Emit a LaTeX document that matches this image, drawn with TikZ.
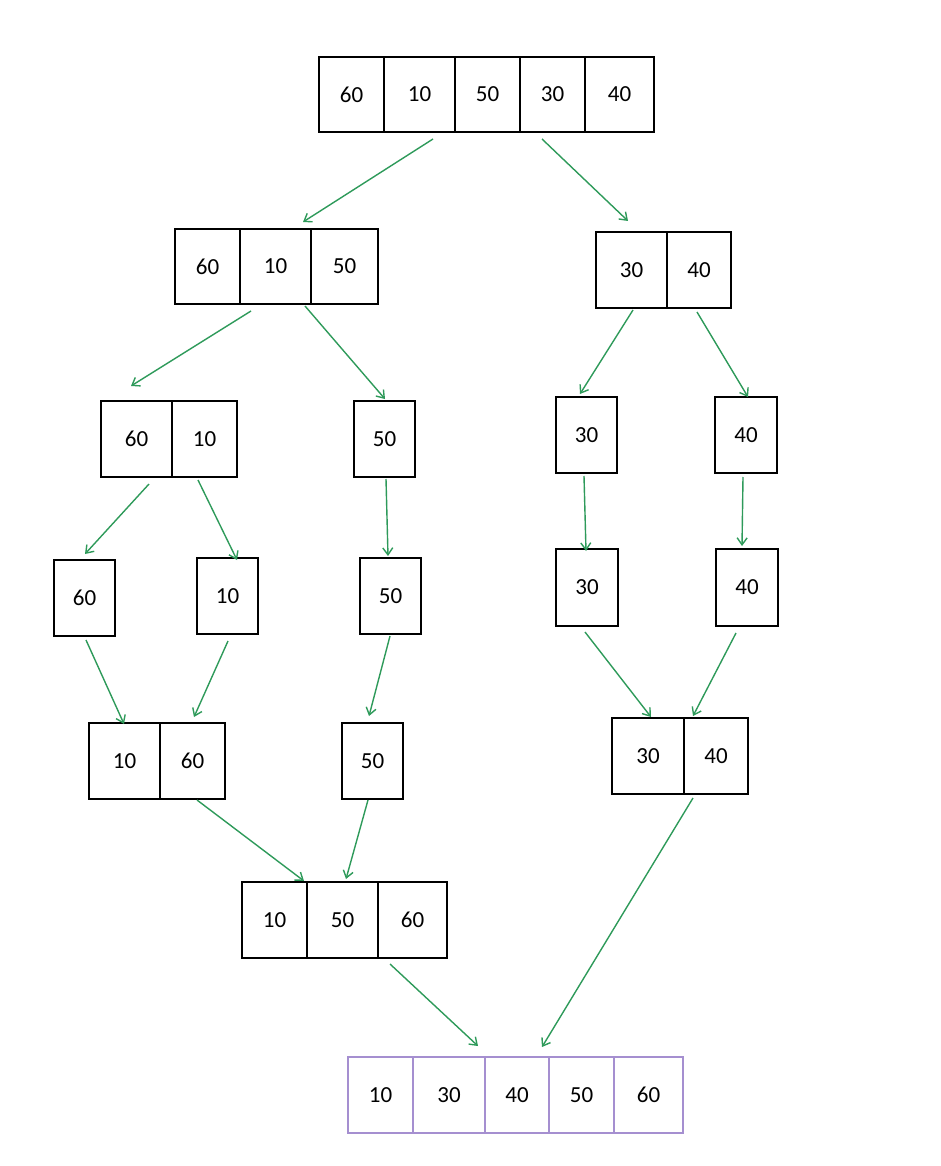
\documentclass[tikz,border=0pt]{standalone}
\usepackage{fontspec}
\setmainfont{Carlito}
\usetikzlibrary{arrows.meta}
\definecolor{arr}{HTML}{2E9A5A}
\definecolor{fin}{HTML}{A58FD0}
\tikzset{
 cellbox/.style={draw=black,line width=1.2pt},
 finbox/.style={draw=fin,line width=1.2pt},
 lbl/.style={font=\fontsize{23}{27}\selectfont},
 conn/.style={draw=arr,line width=1.4pt,-{Straight Barb[length=7pt,width=10pt]}}
}
% \mcell{name}{x1}{x2}{y1}{y2}{text}{style}
\newcommand{\mcell}[7]{%
 \path[#7] (#2,#4) rectangle (#3,#5);
 \node[lbl] (#1) at ({(#2+#3)/2},{(#4+#5)/2}) {#6};}
\begin{document}
\begin{tikzpicture}[x=1pt,y=-1pt]
\useasboundingbox (0,0) rectangle (940,1166);
% top
\mcell{t1}{319}{384}{57}{132}{60}{cellbox}
\mcell{t2}{384}{455}{57}{132}{10}{cellbox}
\mcell{t3}{455}{520}{57}{132}{50}{cellbox}
\mcell{t4}{520}{585}{57}{132}{30}{cellbox}
\mcell{t5}{585}{654}{57}{132}{40}{cellbox}
% row2
\mcell{a1}{175}{240}{229}{304}{60}{cellbox}
\mcell{a2}{240}{311}{229}{304}{10}{cellbox}
\mcell{a3}{311}{378}{229}{304}{50}{cellbox}
\mcell{b1}{596}{667}{232}{308}{30}{cellbox}
\mcell{b2}{667}{731}{232}{308}{40}{cellbox}
% row3
\mcell{c1}{101}{172}{401}{477}{60}{cellbox}
\mcell{c2}{172}{237}{401}{477}{10}{cellbox}
\mcell{c3}{354}{415}{401}{477}{50}{cellbox}
\mcell{c4}{556}{617}{397}{473}{30}{cellbox}
\mcell{c5}{715}{777}{397}{473}{40}{cellbox}
% row4
\mcell{d1}{54}{115}{560}{636}{60}{cellbox}
\mcell{d2}{197}{258}{558}{634}{10}{cellbox}
\mcell{d3}{360}{421}{558}{634}{50}{cellbox}
\mcell{d4}{556}{618}{549}{626}{30}{cellbox}
\mcell{d5}{716}{778}{549}{626}{40}{cellbox}
% row5
\mcell{e1}{89}{160}{723}{799}{10}{cellbox}
\mcell{e2}{160}{225}{723}{799}{60}{cellbox}
\mcell{e3}{342}{403}{723}{799}{50}{cellbox}
\mcell{e4}{612}{684}{718}{794}{30}{cellbox}
\mcell{e5}{684}{748}{718}{794}{40}{cellbox}
% row6
\mcell{f1}{242}{307}{882}{958}{10}{cellbox}
\mcell{f2}{307}{378}{882}{958}{50}{cellbox}
\mcell{f3}{378}{447}{882}{958}{60}{cellbox}
% final
\mcell{g1}{348}{413}{1057}{1133}{10}{finbox}
\mcell{g2}{413}{485}{1057}{1133}{30}{finbox}
\mcell{g3}{485}{549}{1057}{1133}{40}{finbox}
\mcell{g4}{549}{614}{1057}{1133}{50}{finbox}
\mcell{g5}{614}{683}{1057}{1133}{60}{finbox}
% connector endpoints
\foreach \n/\x/\y in {p1/433/139,q1/303/222,p2/542/139,q2/628/221,
 p3/251/311,q3/131/386,p4/305/306,q4/385/399,
 p5/633/310,q5/580/394,p6/697/312,q6/748/397,
 p7/149/484,q7/85/554,p8/198/480,q8/237/560,
 p9/386/479,q9/388/556,p10/584/476,q10/586/551,p11/743/477,q11/742/546,
 p12/86/640,q12/124/724,p13/228/641,q13/194/717,p14/390/636,q14/369/716,
 p15/585/632,q15/651/717,p16/736/633,q16/693/716,
 p17/197/800,q17/304/881,p18/368/800,q18/346/879,
 p19/693/798,q19/542/1047,p20/390/964,q20/478/1046}
 {\coordinate (\n) at (\x,\y);}
\foreach \i in {1,...,20} {\draw[conn] (p\i) -- (q\i);}
\end{tikzpicture}
\end{document}
